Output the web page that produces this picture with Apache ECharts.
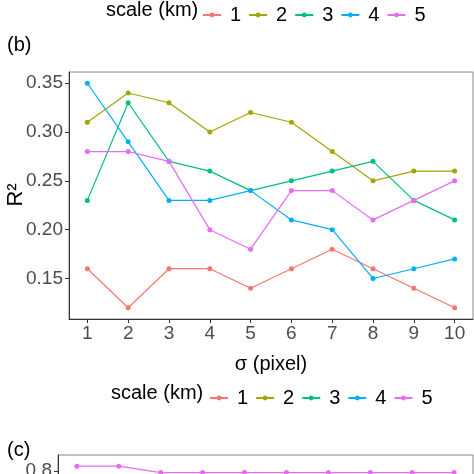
<!DOCTYPE html>
<html>
<head>
<meta charset="utf-8">
<script src="https://cdn.jsdelivr.net/npm/echarts@6/dist/echarts.min.js"></script>
<style>
  html, body { margin: 0; padding: 0; background: #fff; }
  #main { width: 474px; height: 474px; }
</style>
</head>
<body>
<div id="main"></div>
<script>
// σ (pixel) 取值
var sigma = [1, 2, 3, 4, 5, 6, 7, 8, 9, 10];
// 尺度名称
var scaleNames = ['1', '2', '3', '4', '5'];
var scaleColors = ['#F8766D', '#A3A500', '#00BF7D', '#00B0F6', '#E76BF3'];
// 面板 (b) 的 R² 数值
var r2Scale1 = [0.16, 0.12, 0.16, 0.16, 0.14, 0.16, 0.18, 0.16, 0.14, 0.12];
var r2Scale2 = [0.31, 0.34, 0.33, 0.30, 0.32, 0.31, 0.28, 0.25, 0.26, 0.26];
var r2Scale3 = [0.23, 0.33, 0.27, 0.26, 0.24, 0.25, 0.26, 0.27, 0.23, 0.21];
var r2Scale4 = [0.35, 0.29, 0.23, 0.23, 0.24, 0.21, 0.20, 0.15, 0.16, 0.17];
var r2Scale5 = [0.28, 0.28, 0.27, 0.20, 0.18, 0.24, 0.24, 0.21, 0.23, 0.25];
// 面板 (c) 只露出顶部一条线
var cScale5 = [0.806, 0.806, 0.798, 0.798, 0.798, 0.798, 0.798, 0.798, 0.798, 0.798];
// 刻度
var yTicksB = [0.15, 0.20, 0.25, 0.30, 0.35];
var yTicksC = [0.8];

var chart = echarts.init(document.getElementById('main'));
var font = 'Liberation Sans, Arial, sans-serif';

function pairs(vals) {
  var out = [];
  for (var i = 0; i < sigma.length; i++) {
    out.push([sigma[i], vals[i]]);
  }
  return out;
}

var bData = [r2Scale1, r2Scale2, r2Scale3, r2Scale4, r2Scale5];
var series = [];
for (var k = 0; k < bData.length; k++) {
  series.push({
    name: scaleNames[k],
    type: 'line',
    xAxisIndex: 0,
    yAxisIndex: 0,
    data: pairs(bData[k]),
    symbol: 'circle',
    symbolSize: 5,
    lineStyle: { width: 1.2, color: scaleColors[k] },
    itemStyle: { color: scaleColors[k] },
    animation: false
  });
}
series.push({
  name: '5',
  type: 'line',
  xAxisIndex: 1,
  yAxisIndex: 1,
  data: pairs(cScale5),
  symbol: 'circle',
  symbolSize: 5,
  lineStyle: { width: 1.2, color: scaleColors[4] },
  itemStyle: { color: scaleColors[4] },
  animation: false
});

function legendAt(top, left) {
  return {
    top: top,
    left: left,
    data: scaleNames,
    itemWidth: 18,
    itemHeight: 6,
    itemGap: 7,
    selectedMode: false,
    textStyle: { fontFamily: font, fontSize: 20, color: '#000', padding: [0, 0, 0, 4] }
  };
}

var xBase = {
  type: 'value',
  min: 0.55,
  max: 10.45,
  splitLine: { show: false },
  axisLine: { show: true, lineStyle: { color: '#333', width: 1 } },
  axisTick: { show: true, length: 4, lineStyle: { color: '#333' }, customValues: sigma },
  axisLabel: { fontFamily: font, fontSize: 19, color: '#4D4D4D', margin: 5, customValues: sigma }
};

var option = {
  backgroundColor: '#fff',
  legend: [legendAt(0, 197), legendAt(383, 204)],
  grid: [
    { left: 69, top: 72, width: 404, height: 247, show: true, borderColor: '#888', borderWidth: 1, outerBoundsMode: 'none' },
    { left: 58, top: 455, width: 415, height: 336, show: true, borderColor: '#888', borderWidth: 1, outerBoundsMode: 'none' }
  ],
  xAxis: [
    Object.assign({}, xBase, {
      gridIndex: 0,
      name: 'σ (pixel)',
      nameLocation: 'middle',
      nameGap: 35,
      nameTextStyle: { fontFamily: font, fontSize: 20, color: '#000' }
    }),
    Object.assign({}, xBase, { gridIndex: 1 })
  ],
  yAxis: [
    {
      type: 'value',
      gridIndex: 0,
      min: 0.1085,
      max: 0.3615,
      splitLine: { show: false },
      axisLine: { show: true, lineStyle: { color: '#333', width: 1 } },
      axisTick: { show: true, length: 4, lineStyle: { color: '#333' }, customValues: yTicksB },
      axisLabel: {
        fontFamily: font, fontSize: 19, color: '#4D4D4D', margin: 6,
        customValues: yTicksB,
        formatter: function (v) { return v.toFixed(2); }
      }
    },
    {
      type: 'value',
      gridIndex: 1,
      min: 0.4,
      max: 0.82,
      splitLine: { show: false },
      axisLine: { show: true, lineStyle: { color: '#333', width: 1 } },
      axisTick: { show: true, length: 4, lineStyle: { color: '#333' }, customValues: yTicksC },
      axisLabel: {
        fontFamily: font, fontSize: 19, color: '#4D4D4D', margin: 6,
        customValues: yTicksC,
        formatter: function (v) { return v.toFixed(1); }
      }
    }
  ],
  graphic: [
    { type: 'text', left: 106, top: 0, style: { text: 'scale (km)', font: '20px ' + font, fill: '#000' } },
    { type: 'text', left: 111, top: 383, style: { text: 'scale (km)', font: '20px ' + font, fill: '#000' } },
    { type: 'text', left: 7, top: 35, style: { text: '(b)', font: '20px ' + font, fill: '#000' } },
    { type: 'text', left: 7, top: 440, style: { text: '(c)', font: '20px ' + font, fill: '#000' } },
    {
      type: 'text', x: 16, y: 195, rotation: Math.PI / 2,
      style: { text: 'R²', font: '22px ' + font, fill: '#000', align: 'center', verticalAlign: 'middle' }
    }
  ],
  series: series
};

chart.setOption(option);
</script>
</body>
</html>
